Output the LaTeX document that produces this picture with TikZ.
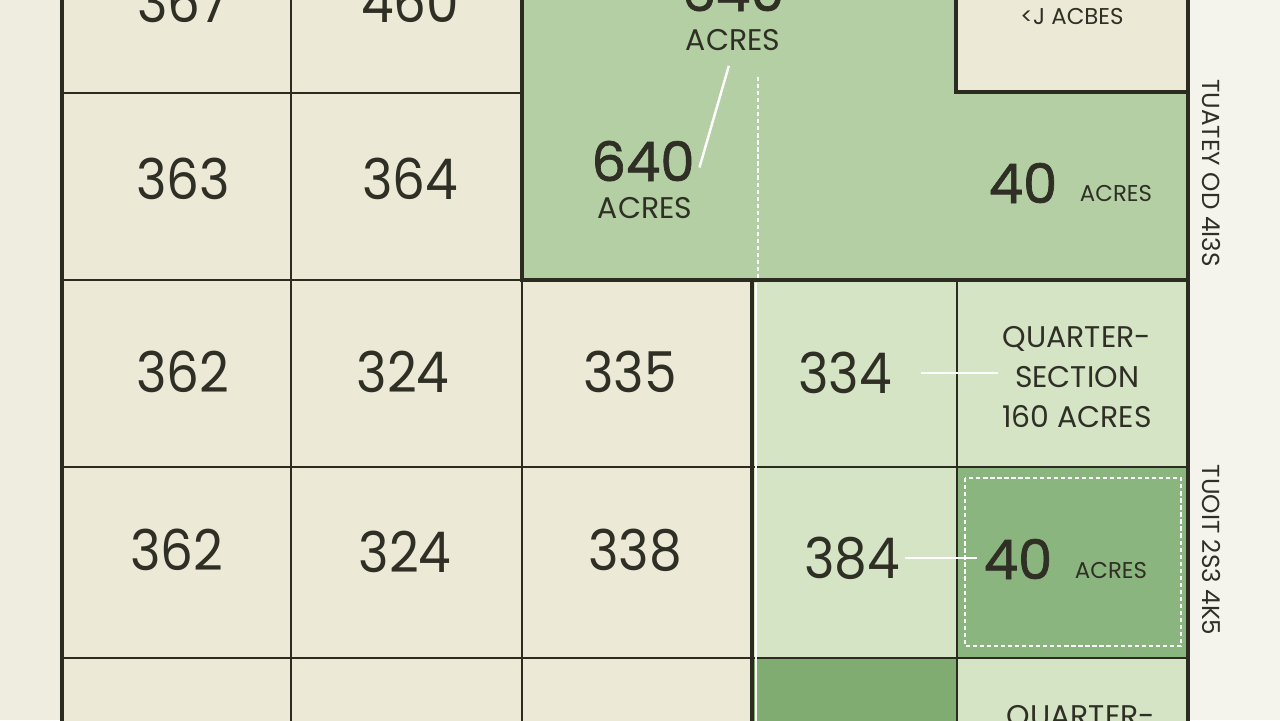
\documentclass[tikz,border=0pt]{standalone}
\usepackage{fontspec}
\setmainfont{Poppins}
\newfontfamily\medio{Poppins}[FakeBold=1.2]
\newfontfamily\cifras{Poppins}[FakeStretch=0.92]
\usetikzlibrary{calc}

\definecolor{crema}{HTML}{EFECE0}
\definecolor{celda}{HTML}{ECEAD7}
\definecolor{verde}{HTML}{B3CFA3}
\definecolor{verdeclaro}{HTML}{D5E4C5}
\definecolor{verdeosc}{HTML}{8BB57E}
\definecolor{verdeosc2}{HTML}{80AC72}
\definecolor{trazo}{HTML}{2B2B20}
\definecolor{tinta}{HTML}{2F2F25}

\tikzset{
	linea/.style={draw=trazo, line width=0.75pt},
	borde/.style={draw=trazo, line width=1.2pt},
	numero/.style={text=tinta, inner sep=0pt, font=\fontsize{16}{18}\selectfont\cifras},
	grande/.style={text=tinta, inner sep=0pt, font=\fontsize{15.5}{18}\selectfont\medio},
	rotulo/.style={text=tinta, inner sep=0pt, font=\fontsize{8.5}{11.4}\selectfont},
	chico/.style={text=tinta, inner sep=0pt, font=\fontsize{6.5}{8}\selectfont},
	lateral/.style={text=tinta, inner sep=0pt, rotate=-90, font=\fontsize{7}{8}\selectfont},
	enlace/.style={draw=white, line width=0.7pt},
}

\begin{document}
\begin{tikzpicture}[x=0.01cm, y=-0.01cm]
	\useasboundingbox (0,0) rectangle (1280,720);
	\clip (0,0) rectangle (1280,720);
	
	% Fondo y parcelas
	\fill[crema] (0,0) rectangle (1280,720);
	\fill[crema!60!white] (1188,0) rectangle (1280,720);
	\fill[celda] (62,-10) rectangle (1188,730);
	\fill[verde] (522,-10) rectangle (1188,280);
	\fill[celda] (956,-10) rectangle (1188,92);
	\fill[verdeclaro] (752,280) rectangle (1188,730);
	\fill[verdeosc] (957,467) rectangle (1188,658);
	\fill[verdeosc2] (752,658) rectangle (957,730);
	
	% Cuadrícula
	\foreach \y in {93,280} \draw[linea] (62,\y) -- (522,\y);
	\foreach \y in {467,658} \draw[linea] (62,\y) -- (1188,\y);
	\draw[linea] (291,-10) -- (291,730);
	\draw[linea] (522,280) -- (522,730);
	\draw[linea] (957,280) -- (957,730);
	\draw[borde] (62,-10) -- (62,730);
	\draw[borde] (1188,-10) -- (1188,730);
	\draw[borde] (522,-10) -- (522,280) -- (1188,280);
	\draw[borde] (752,280) -- (752,730);
	\draw[borde] (956,-10) -- (956,92) -- (1188,92);
	\draw[white, line width=0.8pt, dash pattern=on 1.2pt off 0.8pt] (965,478) rectangle (1181,646);
	
	% Numeros de seccion
	\node[numero] (c367) at (183,2) {367};
	\node[numero] (c460) at (410,2) {460};
	\node[numero] (c363) at (183,179) {363};
	\node[numero] (c364) at (410,179) {364};
	\node[numero] (c362a) at (183,372) {362};
	\node[numero] (c324a) at (403,372) {324};
	\node[numero] (c335) at (630,372) {335};
	\node[numero] (c334) at (845,373) {334};
	\node[numero] (c362b) at (177,550) {362};
	\node[numero] (c324b) at (405,552) {324};
	\node[numero] (c338) at (635,550) {338};
	\node[numero] (c384) at (852,558) {384};
	
	% Rotulos de superficie
	\node[grande] (s640a) at (733,-9) {640};
	\node[rotulo] (a640a) at (733,40) {ACRES};
	\node[grande] (s640b) at (643,161) {640};
	\node[rotulo] (a640b) at (645,208) {ACRES};
	\node[chico] (arriba) at (1072,16) {<J ACBES};
	\node[grande] (s40a) at (1023,183) {40};
	\node[chico] (a40a) at (1116,193) {ACRES};
	\node[grande] (s40b) at (1018,559) {40};
	\node[chico] (a40b) at (1111,570) {ACRES};
	\node[rotulo, align=center] (cuarto) at (1077,377) {QUARTER-\\SECTION\\160 ACRES};
	\node[rotulo] (cuarto2) at (1081,718) {QUARTER-};
	\node[lateral] (lado1) at (1211,173) {TUATEY OD 4I3S};
	\node[lateral] (lado2) at (1211,550) {TUOIT 2S3 4K5};
	
	% Enlaces blancos
	\draw[enlace, shorten <=0.15cm, shorten >=0.15cm] (s640b.south east) -- (a640a.south);
	\coordinate (corte) at (758,77);
	\draw[white, line width=0.8pt, dash pattern=on 1.2pt off 0.8pt] (corte) -- (corte |- 0,280);
	\draw[white, line width=0.6pt] (756,283) -- (756,730);
	\draw[enlace, shorten <=0.28cm, shorten >=0.04cm] (c334.east) -- (c334.east -| cuarto.west);
	\draw[enlace, shorten <=0.04cm, shorten >=0.06cm] (c384.east) -- (c384.east -| s40b.west);
	
\end{tikzpicture}
\end{document}
